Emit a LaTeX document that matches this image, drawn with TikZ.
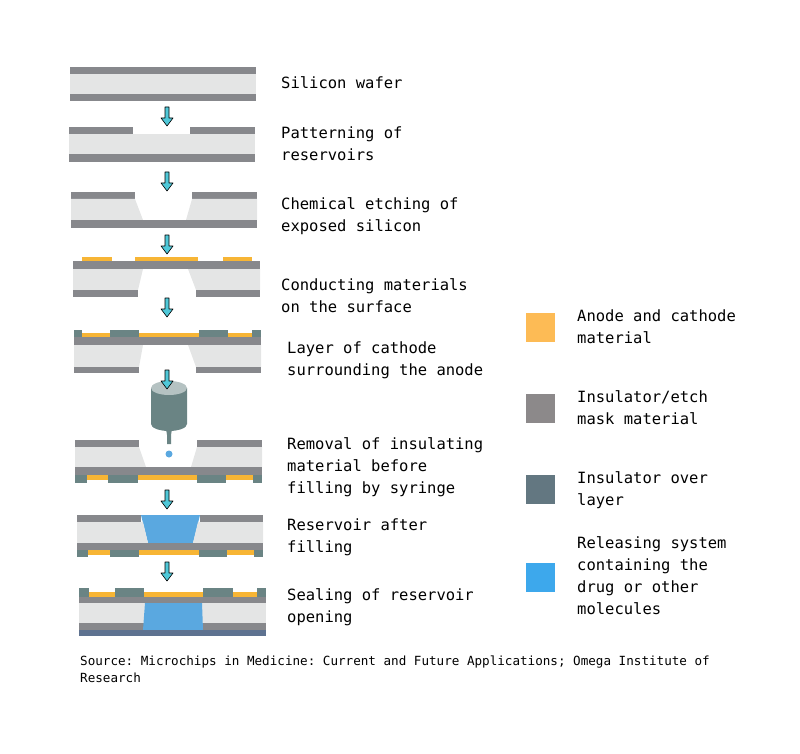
\documentclass[tikz,border=0pt]{standalone}
\usepackage{fontspec}
\setmonofont{DejaVu Sans Mono}
\definecolor{silicon}{HTML}{E4E5E5}
\definecolor{insul}{HTML}{87888C}
\definecolor{over}{HTML}{6A8484}
\definecolor{anode}{HTML}{F7B535}
\definecolor{drug}{HTML}{5AA8E0}
\definecolor{arrowfill}{HTML}{4FC8D8}
\definecolor{legover}{HTML}{637781}
\definecolor{legdrug}{HTML}{3DA8EC}
\definecolor{legiso}{HTML}{8C898A}
\definecolor{legan}{HTML}{FDBB55}
\definecolor{base}{HTML}{5E7290}
\tikzset{
  steplabel/.style={anchor=north west, align=left, font=\ttfamily\fontsize{15.5}{22}\selectfont, inner sep=0pt},
  legendbox/.style={fill=#1, minimum width=29pt, minimum height=29pt, inner sep=0pt, anchor=north west},
  flowarrow/.style={fill=arrowfill, draw=black, line width=0.6pt, line join=round}
}
\begin{document}
\begin{tikzpicture}[x=1pt,y=-1pt]
\useasboundingbox (0,0) rectangle (800,754);

% Silicon wafer
\fill[insul] (70,67) rectangle (256,74);
\fill[silicon] (70,74) rectangle (256,94);
\fill[insul] (70,94) rectangle (256,101);

% Patterning of reservoirs
\fill[insul] (69,127) rectangle (133,134);
\fill[insul] (190,127) rectangle (255,134);
\fill[silicon] (69,134) rectangle (255,154);
\fill[insul] (69,154) rectangle (255,162);

% Chemical etching
\fill[insul] (71,192) rectangle (135,199);
\fill[insul] (192,192) rectangle (257,199);
\fill[silicon] (71,199) -- (135,199) -- (143,220) -- (186,220) -- (192,199) -- (257,199) -- (257,220) -- (71,220) -- cycle;
\fill[insul] (71,220) rectangle (257,228);

% Conducting materials
\foreach \a/\b in {82/112, 135/198, 223/252}
  \fill[anode] (\a,257) rectangle (\b,261);
\fill[insul] (73,261) rectangle (260,269);
\fill[silicon] (73,269) -- (143,269) -- (138,290) -- (73,290) -- cycle;
\fill[silicon] (188,269) -- (260,269) -- (260,290) -- (196,290) -- cycle;
\fill[insul] (73,290) rectangle (138,297);
\fill[insul] (196,290) rectangle (260,297);

% Layer of cathode
\fill[anode] (74,333) rectangle (261,337);
\foreach \a/\b in {74/82, 110/139, 199/228, 252/261}
  \fill[over] (\a,330) rectangle (\b,337);
\fill[insul] (74,337) rectangle (261,345);
\fill[silicon] (74,345) -- (143,345) -- (139,367) -- (74,367) -- cycle;
\fill[silicon] (188,345) -- (261,345) -- (261,367) -- (196,367) -- cycle;
\fill[insul] (74,367) rectangle (139,373);
\fill[insul] (196,367) rectangle (261,373);

% Syringe
\fill[over] (151,388) -- (151,424) arc[start angle=180, end angle=0, x radius=18, y radius=7] -- (187,388) -- cycle;
\fill[over!50!white] (169,388) ellipse[x radius=18, y radius=7];
\fill[over] (166,429) -- (172,429) -- (171,435) -- (171,444) -- (167,444) -- (167,435) -- cycle;
\fill[drug] (169,454) circle[radius=3.5];

% Removal of insulating material
\fill[insul] (75,440) rectangle (139,447);
\fill[insul] (197,440) rectangle (262,447);
\fill[silicon] (75,447) -- (139,447) -- (146,467) -- (75,467) -- cycle;
\fill[silicon] (197,447) -- (262,447) -- (262,467) -- (191,467) -- cycle;
\fill[insul] (75,467) rectangle (262,475);
\fill[anode] (75,475) rectangle (262,480);
\foreach \a/\b in {75/87, 108/138, 197/226, 253/262}
  \fill[over] (\a,475) rectangle (\b,483);

% Reservoir after filling
\fill[insul] (77,515) rectangle (141,522);
\fill[insul] (200,515) rectangle (263,522);
\fill[drug] (141,515) -- (200,515) -- (193,543) -- (148,543) -- cycle;
\fill[silicon] (77,522) -- (143,522) -- (148,543) -- (77,543) -- cycle;
\fill[silicon] (198,522) -- (263,522) -- (263,543) -- (193,543) -- cycle;
\fill[insul] (77,543) rectangle (263,550);
\fill[anode] (77,550) rectangle (263,555);
\foreach \a/\b in {77/88, 110/139, 199/227, 254/263}
  \fill[over] (\a,550) rectangle (\b,557);

% Sealing of reservoir opening
\fill[anode] (79,592) rectangle (266,597);
\foreach \a/\b in {79/89, 115/144, 203/233, 257/266}
  \fill[over] (\a,588) rectangle (\b,597);
\fill[insul] (79,597) rectangle (266,603);
\fill[silicon] (79,603) rectangle (266,623);
\fill[insul] (79,623) rectangle (266,630);
\fill[drug] (145,603) -- (202,603) -- (203,630) -- (143,630) -- cycle;
\fill[base] (79,630) rectangle (266,636);

% Arrows between steps
\foreach \y in {107,172,235,298,370,490,562}
  \draw[flowarrow] (165,\y) -- (169,\y) -- (169,\y+11) -- (173,\y+11)
    -- (167,\y+19) -- (161,\y+11) -- (165,\y+11) -- cycle;

% Step labels
\node[steplabel] (s1) at (281,76) {Silicon wafer};
\node[steplabel] (s2) at (281,127) {Patterning of\\reservoirs};
\node[steplabel] (s3) at (281,197) {Chemical etching of\\exposed silicon};
\node[steplabel] (s4) at (281,278) {Conducting materials\\on the surface};
\node[steplabel] (s5) at (287,342) {Layer of cathode\\surrounding the anode};
\node[steplabel] (s6) at (287,437) {Removal of insulating\\material before\\filling by syringe};
\node[steplabel] (s7) at (287,519) {Reservoir after\\filling};
\node[steplabel] (s8) at (287,588) {Sealing of reservoir\\opening};

% Legend
\node[legendbox=legan] (l1) at (526,313) {};
\node[legendbox=legiso] (l2) at (526,394) {};
\node[legendbox=legover] (l3) at (526,475) {};
\node[legendbox=legdrug] (l4) at (526,563) {};
\node[steplabel] (t1) at (577,310) {Anode and cathode\\material};
\node[steplabel] (t2) at (577,390) {Insulator/etch\\mask material};
\node[steplabel] (t3) at (577,471) {Insulator over\\layer};
\node[steplabel] (t4) at (577,536) {Releasing system\\containing the\\drug or other\\molecules};

% Source
\node[anchor=north west, align=left, inner sep=0pt, font=\ttfamily\fontsize{12.6}{17}\selectfont] (src) at (80,656)
  {Source: Microchips in Medicine: Current and Future Applications; Omega Institute of\\Research};
\end{tikzpicture}
\end{document}
